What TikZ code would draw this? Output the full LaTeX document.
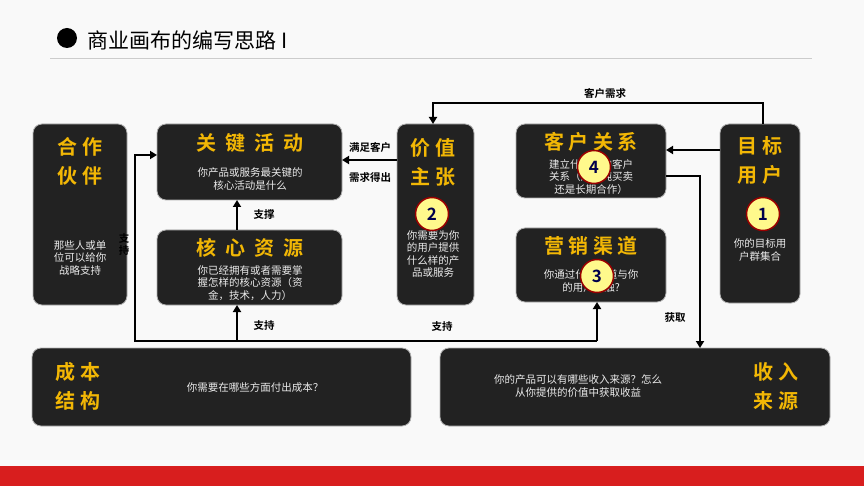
\documentclass[tikz,border=0pt]{standalone}
\usepackage{fontspec}
\setmainfont{Noto Sans CJK SC}
\newfontfamily\cjkb{Noto Sans CJK SC Bold}
\usetikzlibrary{arrows.meta}
\definecolor{gold}{HTML}{F2B705}
\definecolor{boxc}{HTML}{222222}
\definecolor{redbar}{HTML}{D81E1E}
\begin{document}
\begin{tikzpicture}[x=1pt,y=-1pt,
  blk/.style={draw=gray!60,line width=0.8pt,fill=boxc,rounded corners=9pt},
  ttl/.style={text=gold,font=\cjkb\fontsize{20}{23}\selectfont},
  bod/.style={text=white!92!black,font=\fontsize{10.5}{12.5}\selectfont,align=center},
  lab/.style={font=\cjkb\fontsize{10.5}{12}\selectfont},
  arr/.style={line width=2pt,-{Triangle[length=7pt,width=8pt]}},
  ln/.style={line width=2pt},
  num/.style={circle,draw=red!60!black,line width=1.5pt,fill=yellow!45,minimum size=33pt,inner sep=0pt,font=\cjkb\fontsize{17}{17}\selectfont,text=blue!30!black}]
\useasboundingbox (0,0) rectangle (864,486);
\fill[white!95!gray] (0,0) rectangle (864,486);
\fill[redbar] (0,466) rectangle (864,486);
\draw[gray!40,line width=0.8pt] (50,58) -- (812,58);
\fill (67,38) circle (10);
\node[anchor=west,font=\fontsize{21}{24}\selectfont] (title) at (84,40) {商业画布的编写思路 I};
% boxes
\path[blk] (33,124) rectangle (127,305);
\path[blk] (157,124) rectangle (342,200);
\path[blk] (157,230) rectangle (342,305);
\path[blk] (397,124) rectangle (474,305);
\path[blk] (516,124) rectangle (666,198);
\path[blk] (516,228) rectangle (666,302);
\path[blk] (720,124) rectangle (800,303);
\path[blk] (32,348) rectangle (411,426);
\path[blk] (440,348) rectangle (830,426);
\node[coordinate] (kaL) at (157,155) {};
\node[coordinate] (kaR) at (342,160) {};
\node[coordinate] (kaB) at (237,200) {};
\node[coordinate] (zyT) at (237,230) {};
\node[coordinate] (zyB) at (237,305) {};
\node[coordinate] (jzT) at (433,124) {};
\node[coordinate] (jzL) at (397,160) {};
\node[coordinate] (khR1) at (666,150) {};
\node[coordinate] (khR2) at (666,176) {};
\node[coordinate] (yxB) at (597,302) {};
\node[coordinate] (mbT) at (763,124) {};
\node[coordinate] (mbL) at (720,150) {};
\node[coordinate] (srT) at (700,348) {};
\node[coordinate] (cbT) at (237,341) {};
% texts
\node[ttl,align=center] (t1) at (80,161) {合 作\\[6pt]伙 伴};
\node[bod] (b1) at (80,258) {那些人或单\\位可以给你\\战略支持};
\node[ttl] (t2) at (250,143) {关\ \ 键\ \ 活\ \ 动};
\node[bod] (b2) at (250,179) {你产品或服务最关键的\\核心活动是什么};
\node[ttl] (t3) at (250,248) {核\ \ 心\ \ 资\ \ 源};
\node[bod] (b3) at (250,283) {你已经拥有或者需要掌\\握怎样的核心资源（资\\金，技术，人力）};
\node[ttl,align=center] (t4) at (433,162) {价 值\\[6pt]主 张};
\node[bod] (b4) at (433,254) {你需要为你\\的用户提供\\什么样的产\\品或服务};
\node[ttl] (t5) at (591,142) {客 户 关 系};
\node[bod] (b5) at (591,177) {建立什么样的客户\\关系（是单纯买卖\\还是长期合作）};
\node[ttl] (t6) at (591,246) {营 销 渠 道};
\node[bod] (b6) at (591,281) {你通过什么渠道与你\\的用户接触?};
\node[ttl,align=center] (t7) at (760,160) {目 标\\[6pt]用 户};
\node[bod] (b7) at (760,250) {你的目标用\\户群集合};
\node[ttl,align=center] (t8) at (78,386) {成 本\\[6pt]结 构};
\node[bod] (b8) at (255,388) {你需要在哪些方面付出成本？};
\node[bod] (b9) at (578,386) {你的产品可以有哪些收入来源？怎么\\从你提供的价值中获取收益};
\node[ttl,align=center] (t9) at (776,386) {收 入\\[6pt]来 源};
% numbers
\node[num] (n1) at (763,214) {1};
\node[num] (n2) at (432,214) {2};
\node[num] (n3) at (597,276) {3};
\node[num] (n4) at (594,167) {4};
% connectors
\draw[arr] (mbT) -- ++(0,-21) -| (jzT);
\node[lab] (l1) at (605,93) {客户需求};
\draw[arr] (jzL) -- (kaR);
\node[lab] (l2) at (370,147) {满足客户};
\node[lab] (l3) at (370,178) {需求得出};
\draw[arr] (zyT) -- (kaB);
\node[lab] (l4) at (264,215) {支撑};
\draw[ln] (135,341) -- (597,341);
\draw[arr] (135,342) |- (kaL);
\draw[arr] (cbT) -- (zyB);
\draw[arr] (597,341) -- (yxB);
\node[lab] (l5) at (264,326) {支持};
\node[lab] (l6) at (442,327) {支持};
\node[lab,align=center,inner sep=0pt] (l7) at (124,245) {支\\持};
\draw[arr] (mbL) -- (khR1);
\draw[arr] (khR2) -| (srT);
\node[lab] (l8) at (675,318) {获取};
\end{tikzpicture}
\end{document}
